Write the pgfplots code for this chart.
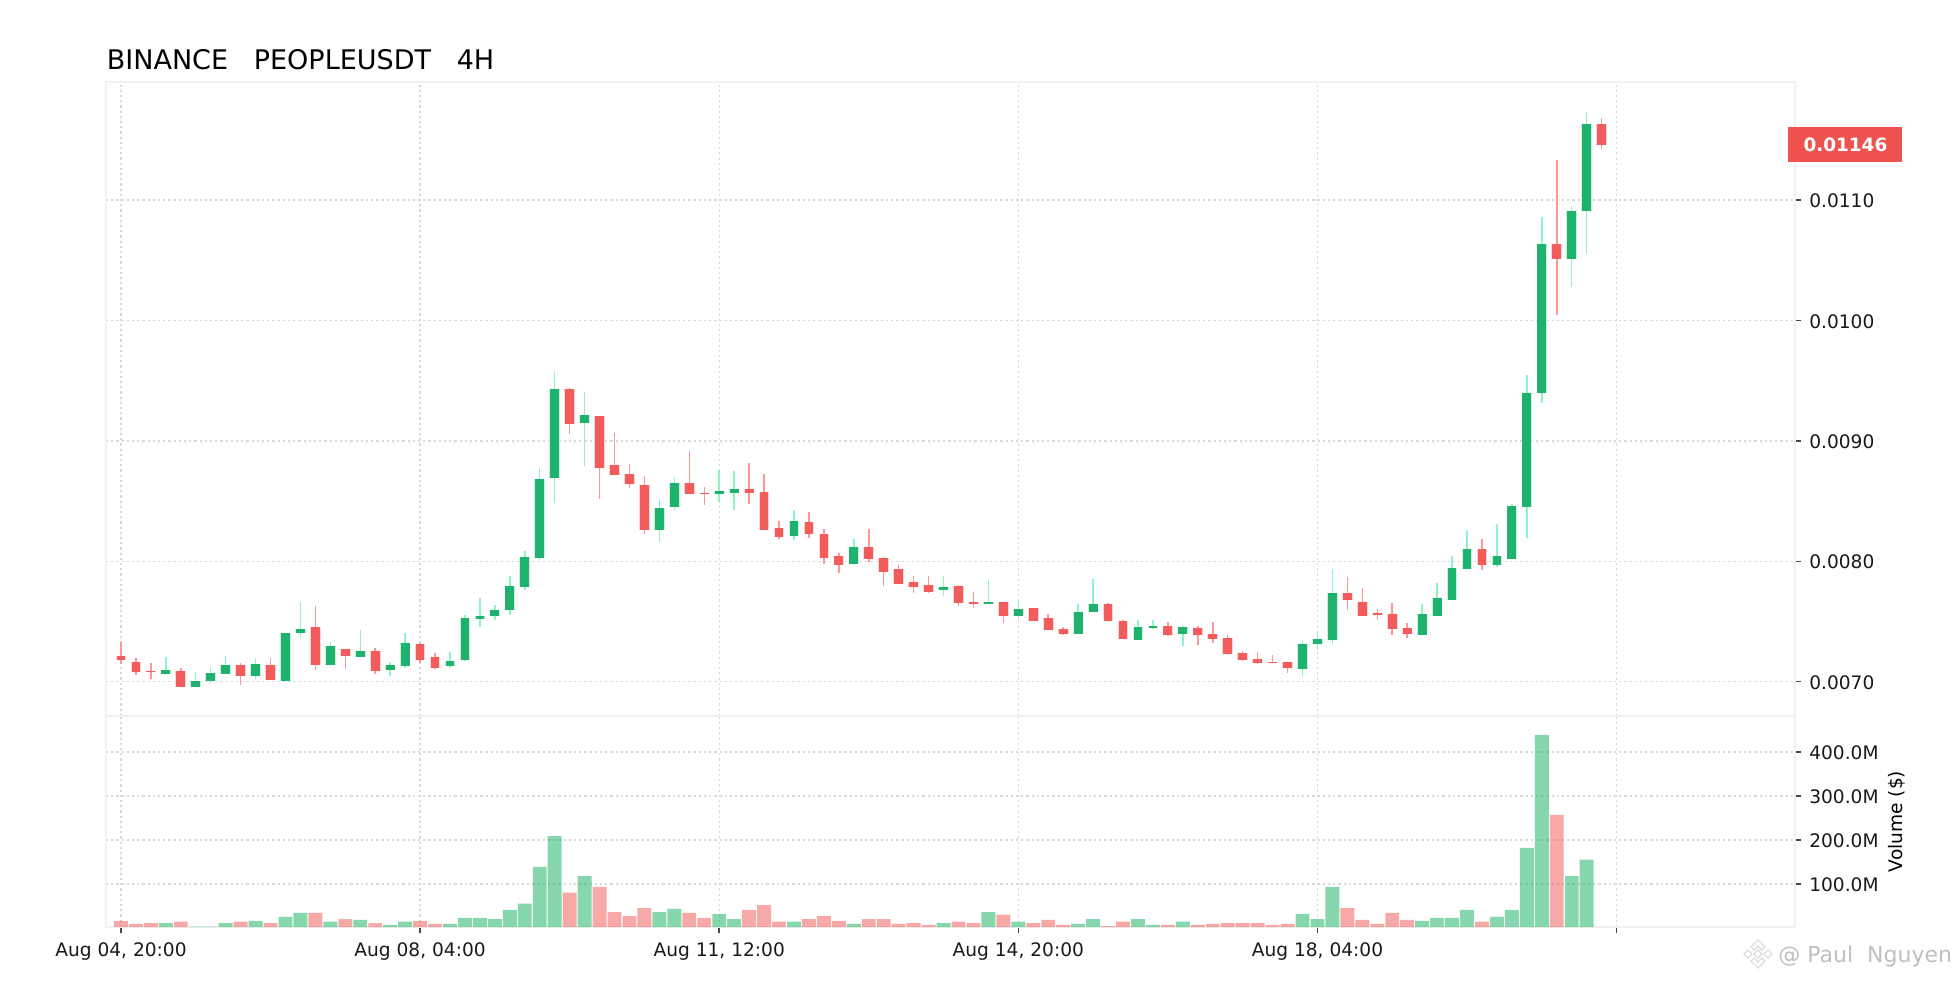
\documentclass[border=0pt]{standalone}
\usepackage{fontspec}
\setmainfont{DejaVu Sans}
\usepackage{pgfplots}
\usepackage{pgfplotstable}
\pgfplotsset{compat=1.18}
\definecolor{bodyg}{HTML}{1FB26E}
\definecolor{bodyr}{HTML}{F25C5C}
\definecolor{wickg}{HTML}{8FF5C2}
\definecolor{wickr}{HTML}{FF9797}
\definecolor{haloG}{HTML}{C9F2DC}
\definecolor{haloR}{HTML}{FFD6D6}
\definecolor{volg}{HTML}{0EAE5E}
\definecolor{volr}{HTML}{EF5350}
\definecolor{frame}{HTML}{F1F1F1}
\definecolor{gridc}{HTML}{D8D8D8}
\definecolor{lab}{HTML}{EF5350}
\pgfplotstableread{
i low bot top high vol
3 0.007060 0.007064 0.007097 0.007202 11
5 0.006956 0.006956 0.007006 0.007083 3
6 0.006986 0.007006 0.007072 0.007119 3
7 0.007064 0.007064 0.007138 0.007210 11
9 0.007019 0.007047 0.007147 0.007199 16
11 0.007006 0.007006 0.007407 0.007407 25
12 0.007374 0.007404 0.007437 0.007659 34
14 0.007138 0.007138 0.007296 0.007332 14
16 0.007205 0.007205 0.007255 0.007426 18
18 0.007044 0.007097 0.007138 0.007161 7
19 0.007111 0.007130 0.007321 0.007401 14
22 0.007111 0.007130 0.007172 0.007244 9
23 0.007172 0.007180 0.007529 0.007557 23
24 0.007457 0.007521 0.007545 0.007692 23
25 0.007510 0.007545 0.007595 0.007640 20
26 0.007551 0.007595 0.007793 0.007881 41
27 0.007765 0.007784 0.008034 0.008086 55
28 0.008009 0.008025 0.008682 0.008778 139
29 0.008488 0.008690 0.009429 0.009573 209
31 0.008795 0.009147 0.009213 0.009402 118
36 0.008161 0.008263 0.008446 0.008510 36
37 0.008426 0.008454 0.008653 0.008701 43
40 0.008490 0.008562 0.008587 0.008756 32
41 0.008426 0.008570 0.008604 0.008750 20
45 0.008177 0.008213 0.008338 0.008426 14
49 0.007981 0.007981 0.008122 0.008186 9
55 0.007709 0.007765 0.007790 0.007878 11
58 0.007648 0.007648 0.007665 0.007845 36
60 0.007521 0.007549 0.007607 0.007687 14
64 0.007394 0.007399 0.007582 0.007646 9
65 0.007582 0.007582 0.007648 0.007853 20
68 0.007349 0.007349 0.007457 0.007512 20
69 0.007438 0.007449 0.007466 0.007512 7
71 0.007294 0.007399 0.007457 0.007466 14
79 0.007045 0.007108 0.007316 0.007338 32
80 0.007266 0.007316 0.007358 0.007413 20
81 0.007311 0.007349 0.007740 0.007936 93
87 0.007391 0.007391 0.007565 0.007646 16
88 0.007549 0.007549 0.007698 0.007820 23
89 0.007682 0.007682 0.007947 0.008042 23
90 0.007939 0.007939 0.008105 0.008260 41
92 0.007953 0.007972 0.008047 0.008310 25
93 0.008022 0.008022 0.008462 0.008473 41
94 0.008194 0.008450 0.009397 0.009549 182
95 0.009316 0.009397 0.010634 0.010859 439
97 0.010280 0.010507 0.010909 0.010953 118
98 0.010554 0.010909 0.011631 0.011734 155
}\up
\pgfplotstableread{
i low bot top high vol
0 0.007147 0.007180 0.007213 0.007332 16
1 0.007058 0.007080 0.007163 0.007194 9
2 0.007019 0.007083 0.007089 0.007152 11
4 0.006956 0.006956 0.007089 0.007111 14
8 0.006970 0.007047 0.007138 0.007158 14
10 0.007014 0.007014 0.007138 0.007194 11
13 0.007094 0.007138 0.007454 0.007631 34
15 0.007102 0.007213 0.007271 0.007271 20
17 0.007061 0.007089 0.007255 0.007282 11
20 0.007152 0.007180 0.007313 0.007318 16
21 0.007102 0.007114 0.007205 0.007235 9
30 0.009055 0.009141 0.009429 0.009437 80
32 0.008521 0.008773 0.009205 0.009205 93
33 0.008715 0.008715 0.008798 0.009066 36
34 0.008610 0.008640 0.008723 0.008812 27
35 0.008225 0.008260 0.008635 0.008705 45
38 0.008562 0.008562 0.008653 0.008914 34
39 0.008468 0.008562 0.008570 0.008615 23
42 0.008476 0.008570 0.008604 0.008817 41
43 0.008263 0.008263 0.008579 0.008723 52
44 0.008186 0.008205 0.008280 0.008332 14
46 0.008194 0.008230 0.008330 0.008407 20
47 0.007978 0.008030 0.008230 0.008269 27
48 0.007903 0.007972 0.008047 0.008066 16
50 0.007992 0.008022 0.008122 0.008269 20
51 0.007792 0.007914 0.008030 0.008036 20
52 0.007814 0.007814 0.007939 0.007970 9
53 0.007737 0.007790 0.007831 0.007878 11
54 0.007734 0.007748 0.007806 0.007878 7
56 0.007626 0.007657 0.007798 0.007806 14
57 0.007610 0.007648 0.007665 0.007745 11
59 0.007485 0.007549 0.007665 0.007665 30
61 0.007507 0.007507 0.007615 0.007615 11
62 0.007432 0.007432 0.007532 0.007560 18
63 0.007385 0.007399 0.007441 0.007454 7
66 0.007507 0.007507 0.007648 0.007657 4
67 0.007352 0.007358 0.007507 0.007515 14
70 0.007377 0.007391 0.007466 0.007496 7
72 0.007302 0.007391 0.007449 0.007466 7
73 0.007322 0.007358 0.007399 0.007493 9
74 0.007219 0.007233 0.007366 0.007385 11
75 0.007172 0.007183 0.007241 0.007255 11
76 0.007144 0.007158 0.007191 0.007247 11
77 0.007155 0.007158 0.007167 0.007219 7
78 0.007072 0.007117 0.007167 0.007167 9
82 0.007593 0.007682 0.007740 0.007870 45
83 0.007549 0.007549 0.007665 0.007776 18
84 0.007513 0.007557 0.007568 0.007604 9
85 0.007388 0.007441 0.007565 0.007651 34
86 0.007360 0.007399 0.007449 0.007488 18
91 0.007928 0.007972 0.008105 0.008186 14
96 0.010047 0.010507 0.010632 0.011335 257
99 0.011426 0.011460 0.011631 0.011684 2
}\down
\pgfplotsset{
  panel/.style={
    scale only axis, width=844.5pt,
    xmin=-1, xmax=111.93,
    xtick={0,20,40,60,80,100},
    grid=major,
    major grid style={color=gridc, line width=0.7pt, dash pattern=on 1.1pt off 1.5pt},
    axis line style={color=frame, line width=1pt},
    ytick pos=right, xtick pos=bottom,
    tick align=outside, major tick length=3pt,
    tick style={color=black!72, line width=0.75pt},
    tick label style={font=\fontsize{9.3}{11}\selectfont, color=black!90},
    yticklabel style={xshift=0.6pt, yshift=-0.4pt},
    clip=false
  },
  cs/.style n args={3}{draw=none, no markers, forget plot,
    error bars/.cd, y dir=plus, y explicit, error mark=none,
    error bar style={draw=#1, line width=#2, line cap=butt, solid}},
  vols/.style={ybar, bar shift=0pt, bar width=0.93, draw=none, fill=#1, fill opacity=0.5, forget plot}
}
\begin{document}
\begin{tikzpicture}[x=0.5pt,y=0.5pt]
\useasboundingbox (-106,-53) rectangle (1854,927);
\node[anchor=base west, inner sep=0pt, font=\fontsize{13.5}{16}\selectfont] at (0.5,857) {BINANCE\ \ \ PEOPLEUSDT\ \ \ 4H};
\begin{axis}[panel, at={(0pt,105.5pt)}, anchor=south west, height=317pt,
    ymin=0.006715, ymax=0.011981,
    ytick={0.007,0.008,0.009,0.010,0.011},
    yticklabels={0.0070,0.0080,0.0090,0.0100,0.0110},
    xticklabels={}, x tick style={draw=none}, scaled y ticks=false]
  \addplot[cs={wickg}{0.75pt}{}] table[x=i, y=low, y error plus expr=\thisrow{high}-\thisrow{low}] {\up};
  \addplot[cs={wickr}{0.75pt}{}] table[x=i, y=low, y error plus expr=\thisrow{high}-\thisrow{low}] {\down};
  \addplot[cs={haloG}{5.3pt}{}] table[x=i, y=bot, y error plus expr=\thisrow{top}-\thisrow{bot}] {\up};
  \addplot[cs={haloR}{5.3pt}{}] table[x=i, y=bot, y error plus expr=\thisrow{top}-\thisrow{bot}] {\down};
  \addplot[cs={bodyg}{4.4pt}{}] table[x=i, y=bot, y error plus expr=\thisrow{top}-\thisrow{bot}] {\up};
  \addplot[cs={bodyr}{4.4pt}{}] table[x=i, y=bot, y error plus expr=\thisrow{top}-\thisrow{bot}] {\down};
  \node[fill=lab, text=white, inner sep=0pt, minimum width=57pt, minimum height=17.5pt,
        font=\bfseries\fontsize{9.2}{11}\selectfont] at (axis cs:115.3,0.01146) {0.01146};
\end{axis}
\begin{axis}[panel, at={(0pt,0pt)}, anchor=south west, height=105.5pt,
    ymin=2, ymax=482,
    ytick={100,200,300,400},
    yticklabels={100.0M,200.0M,300.0M,400.0M},
    xticklabels={Aug 04{,} 20:00,Aug 08{,} 04:00,Aug 11{,} 12:00,Aug 14{,} 20:00,Aug 18{,} 04:00,{}},
    xticklabel style={yshift=-1.5pt},
    ylabel={Volume (\$)}, ylabel style={font=\fontsize{9.3}{11}\selectfont, at={(axis description cs:1.0600,0.50)}, rotate=0, anchor=center}]
  \addplot[vols=volg] table[x=i, y=vol] {\up};
  \addplot[vols=volr] table[x=i, y=vol] {\down};
\end{axis}
% watermark
\begin{scope}[shift={(1652,-27)}, draw=black!14, line width=0.6pt]
  \draw (0,14) -- (7,7) -- (4,4) -- (0,8) -- (-4,4) -- (-7,7) -- cycle;
  \draw (0,-14) -- (7,-7) -- (4,-4) -- (0,-8) -- (-4,-4) -- (-7,-7) -- cycle;
  \draw (-14,0) -- (-10,4) -- (-6,0) -- (-10,-4) -- cycle;
  \draw (14,0) -- (10,4) -- (6,0) -- (10,-4) -- cycle;
  \draw (0,4) -- (4,0) -- (0,-4) -- (-4,0) -- cycle;
\end{scope}
\node[anchor=base west, inner sep=0pt, text=black!25, font=\fontsize{11}{13}\selectfont] at (1672,-35) {@ Paul\ \ Nguyen};
\end{tikzpicture}
\end{document}
